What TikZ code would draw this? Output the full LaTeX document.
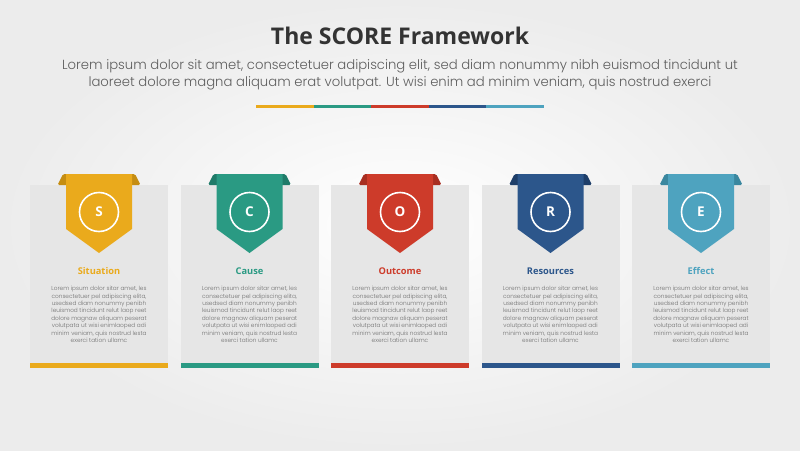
\documentclass[tikz,border=0pt]{standalone}
\usepackage{fontspec}
\setmainfont{Poppins}
\newfontfamily\lightfont{Poppins Light}
\newfontfamily\headfont{Open Sans}
\usetikzlibrary{shadings}
\definecolor{bgout}{HTML}{ECECEC}
\definecolor{cardgray}{HTML}{E6E6E6}
\definecolor{titlegray}{HTML}{333333}
\definecolor{subgray}{HTML}{5E5E5E}
\definecolor{bodygray}{HTML}{6E6E6E}
\definecolor{cA}{HTML}{EAAA1C}\definecolor{dA}{HTML}{C58D12}
\definecolor{cB}{HTML}{2A9A83}\definecolor{dB}{HTML}{1F7B69}
\definecolor{cC}{HTML}{CD3B2A}\definecolor{dC}{HTML}{A82E21}
\definecolor{cD}{HTML}{2C568B}\definecolor{dD}{HTML}{1E3E69}
\definecolor{cE}{HTML}{4EA3BF}\definecolor{dE}{HTML}{3A879F}
\tikzset{
  cardbox/.style={fill=cardgray, draw=none},
  cardtitle/.style={font=\headfont\bfseries\fontsize{9.3}{10}\selectfont, anchor=center, inner sep=0pt},
  cardbody/.style={font=\lightfont\fontsize{5.8}{7.4}\selectfont, text=bodygray, align=center, inner sep=0pt, anchor=center},
  letterstyle/.style={circle, draw=white, line width=1.6pt, minimum size=39pt, inner sep=0pt, text=white, font=\headfont\bfseries\fontsize{13.5}{14}\selectfont},
}
\begin{document}
\begin{tikzpicture}[x=1pt,y=-1pt]
\useasboundingbox (0,0) rectangle (800,450);
\shade[inner color=white, outer color=bgout] (0,0) rectangle (800,450);
% title
\node[font=\headfont\bfseries\fontsize{23}{25}\selectfont, text=titlegray, inner sep=0pt] (title) at (400,36) {The SCORE Framework};
\node[font=\lightfont\fontsize{13.2}{17}\selectfont, text=subgray, align=center, inner sep=0pt] (subtitle) at (400,74.5)
 {Lorem ipsum dolor sit amet, consectetuer adipiscing elit, sed diam nonummy nibh euismod tincidunt ut\\
  laoreet dolore magna aliquam erat volutpat. Ut wisi enim ad minim veniam, quis nostrud exerci};
% colour bar under the subtitle
\foreach \c [count=\k from 0] in {cA,cB,cC,cD,cE}{
  \fill[\c] ({256+57.6*\k},104.5) rectangle ({256+57.6*(\k+1)},107.5);
}
% cards
\foreach \c/\d/\L/\T [count=\k from 0] in {cA/dA/S/Situation, cB/dB/C/Cause, cC/dC/O/Outcome, cD/dD/R/Resources, cE/dE/E/Effect}{
  \pgfmathsetmacro{\cx}{99+150.5*\k}
  \fill[cardbox] (\cx-69,185) rectangle (\cx+69,363);
  \fill[\c] (\cx-69,363) rectangle (\cx+69,367.5);
  \fill[\d, rounded corners=1.5pt] (\cx-41.5,185) -- (\cx-36,174) -- (\cx+36,174) -- (\cx+41.5,185) -- cycle;
  \fill[\c] (\cx-33,174) -- (\cx+33,174) -- (\cx+33,229) -- (\cx,253) -- (\cx-33,229) -- cycle;
  \node[letterstyle] (badge\k) at (\cx,212) {\L};
  \node[cardtitle, text=\c] (name\k) at (\cx,271) {\T};
  \node[cardbody] (body\k) at (\cx,314.5) {Lorem ipsum dolor sitar amet, les\\consectetuer pel adipiscing elita,\\usedsed diam nonummy penibh\\leuismod tincidunt relut laop reet\\dolore magnaw aliquam peserat\\volutpata ut wisi enimlaoped adi\\minim veniam, quis nostrud lesta\\exerci tation ullamc};
}
\end{tikzpicture}
\end{document}
